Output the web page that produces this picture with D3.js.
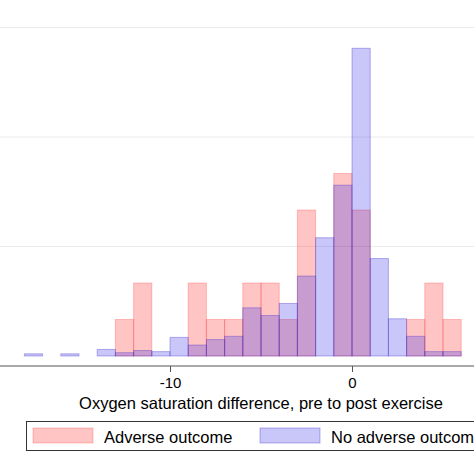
<!DOCTYPE html>
<html><head><meta charset="utf-8">
<script src="https://cdn.jsdelivr.net/npm/d3@7"></script>
<style>body{margin:0;background:#fff}svg{font-family:"Liberation Sans",Arial,sans-serif}</style>
</head><body><svg id="c" width="474" height="474"></svg>
<script>
// bins are [k, k+1)
const bins = d3.range(-18, 6);
const adverse = [0,0,0,0,0,1/30,2/30,0,0,2/30,1/30,1/30,2/30,2/30,1/30,4/30,0,5/30,4/30,0,0,1/30,2/30,1/30];
const noAdverse = [.002,0,.002,0,.006,.003,.005,.004,.017,.010,.015,.018,.044,.037,.048,.073,.108,.156,.281,.089,.034,.018,.004,.004];
const xTicks = [-10, 0];
const yGrid = [0.1, 0.2, 0.3];

const svg = d3.select("#c");
const x = d3.scaleLinear().domain([-10, 0]).range([170, 352]);
const y = d3.scaleLinear().domain([0, 0.1]).range([356, 246.5]);

svg.selectAll(".grid").data(yGrid).enter().append("line")
  .attr("x1", 0).attr("x2", 474).attr("y1", d => y(d)).attr("y2", d => y(d))
  .attr("stroke", "#eaeaea").attr("stroke-width", 1);

function bars(vals, fill, stroke) {
  svg.append("g").selectAll("rect").data(bins.map((b, i) => [b, vals[i]]).filter(d => d[1] > 0))
    .enter().append("rect")
    .attr("x", d => x(d[0])).attr("width", x(1) - x(0))
    .attr("y", d => y(d[1])).attr("height", d => y(0) - y(d[1]))
    .attr("fill", fill).attr("stroke", stroke).attr("stroke-width", 1);
}
bars(adverse, "rgba(255,40,40,0.27)", "rgba(255,60,60,0.3)");
bars(noAdverse, "rgba(60,50,235,0.28)", "rgba(60,40,200,0.35)");

const ax = d3.axisBottom(x).tickValues(xTicks).tickSize(6).tickSizeOuter(0).tickFormat(d => String(d));
const g = svg.append("g").attr("transform", "translate(0,366)").call(ax);
g.select(".domain").remove();
g.append("line").attr("x1", 0).attr("x2", 474).attr("stroke", "#555");
g.selectAll(".tick line").attr("stroke", "#555");
g.selectAll(".tick text").attr("font-size", 15).attr("fill", "#000").attr("dy", "0.85em");

svg.append("text").attr("x", 261).attr("y", 409).attr("text-anchor", "middle")
  .attr("font-size", 16.5).text("Oxygen saturation difference, pre to post exercise");

const lg = svg.append("g");
lg.append("rect").attr("x", 26.5).attr("y", 421.5).attr("width", 470).attr("height", 29)
  .attr("fill", "none").attr("stroke", "#333");
const items = [["Adverse outcome", "rgba(255,40,40,0.27)", "rgba(255,60,60,0.3)", 33],
               ["No adverse outcome", "rgba(60,50,235,0.28)", "rgba(60,40,200,0.35)", 260]];
items.forEach(([t, f, s, px]) => {
  lg.append("rect").attr("x", px).attr("y", 428).attr("width", 60).attr("height", 15).attr("fill", f).attr("stroke", s);
  lg.append("text").attr("x", px + 71).attr("y", 443).attr("font-size", 16.5).text(t);
});
</script></body></html>
